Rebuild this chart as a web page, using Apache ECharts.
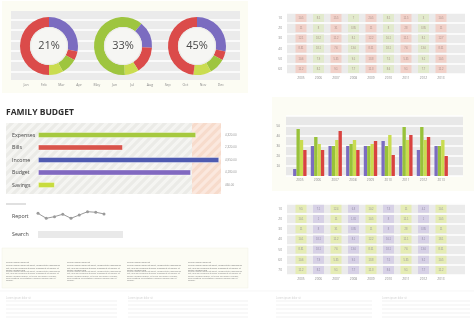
<!DOCTYPE html>
<html><head><meta charset="utf-8">
<script src="https://cdn.jsdelivr.net/npm/echarts@6/dist/echarts.min.js"></script>
<style>html,body{margin:0;padding:0;background:#fff}#c{width:474px;height:320px}</style>
</head><body><div id="c"></div>
<script>
// ---------------- DATA ----------------
const months = ['Jan','Feb','Mar','Apr','May','Jun','Jul','Aug','Sep','Oct','Nov','Dec'];
const donutPercents = ['21%','33%','45%'];
const donut1 = [28, 5, 9, 8, 50];
const donut2 = [11, 15, 15, 8, 51];
const donut3 = [28, 5, 9, 10, 48];

const budgetTitle = 'FAMILY BUDGET';
const budgetCategories = ['Expenses','Bills','Income','Budget','Savings'];
const budgetValues = [4320, 2320, 4950, 4180, 460];

const reportValues = [6.5, 2, 3.5, 5.7, 2, 5, 8, 7.5, 6];

const years = ['2005','2006','2007','2008','2009','2010','2011','2012','2013'];

const heatRowsTop = ['10','20','30','40','50','60'];
const heatTopR1 = [10.5, 8.5, 15.5, 7.0, 20.5, 8.5, 11.5, 3.0, 10.5];
const heatTopR2 = [11, 8, 31, 3.85, 11, 8, 28, 3.85, 11];
const heatTopR3 = [12.1, 18.2, 11.2, 8.1, 12.2, 16.1, 11.1, 8.1, 12.7];
const heatTopR4 = [8.31, 18.1, 7.6, 13.6, 8.51, 18.1, 7.6, 13.6, 8.51];
const heatTopR5 = [10.6, 7.9, 5.35, 9.5, 13.8, 7.5, 5.35, 9.2, 10.5];
const heatTopR6 = [11.2, 8.2, 9.1, 7.7, 11.3, 8.6, 9.1, 7.7, 11.2];

const barTicks = ['10','20','30','40','50'];
const barPurple = [7, 30, 30, 30, 30, 35, 30, 26, 30];
const barGreen  = [47, 39, 30, 32, 30, 30, 49, 49, 30];
const barLime   = [36, 32, 36, 36, 32, 41, 36, 36, 36];
const barRed    = [26, 26, 45, 26, 35, 21, 41, 39, 20];

const heatRowsBottom = ['10','20','30','40','50','60','70'];
const heatBotR1 = [9.5, 7.1, 12.4, 6.8, 10.2, 7.3, 11.0, 4.2, 10.1];
const heatBotR2 = [10.1, 1, 11, 1.81, 10.5, 8, 11.1, 1, 10.5];
const heatBotR3 = [11, 8, 31, 3.85, 11, 8, 28, 3.85, 11];
const heatBotR4 = [10.1, 18.1, 11.2, 8.1, 12.2, 16.1, 11.1, 8.1, 18.1];
const heatBotR5 = [8.31, 18.1, 7.6, 13.6, 8.51, 18.1, 7.6, 13.6, 8.51];
const heatBotR6 = [10.6, 7.9, 5.35, 9.5, 13.8, 7.5, 5.35, 9.2, 10.5];
const heatBotR7 = [11.2, 8.2, 9.1, 7.7, 11.3, 8.6, 9.1, 7.7, 11.2];

const loremHead = 'Lorem ipsum dolor sit';
const loremBody = 'Lorem ipsum dolor sit amet, consectetur adipiscing elit, sed do eiusmod tempor incididunt ut labore et dolore magna aliqua. Ut enim ad minim veniam, quis nostrud exercitation ullamco laboris nisi ut aliquip.';

// ---------------- STYLE ----------------
const P = '#7b6cc0', R = '#db4b4a', G = '#9ec53f', L = '#cadc50';
const donutColors = [[P,R,G,L,R],[G,P,R,L,G],[P,R,G,L,R]];
const budgetColors = ['#a6c93f','#d9544b','#4f5bb1','#8169c0','#c8dc3e'];

function stripes(bg, fg, size, w) {
  const c = document.createElement('canvas');
  c.width = c.height = size;
  const x = c.getContext('2d');
  x.fillStyle = bg; x.fillRect(0,0,size,size);
  x.strokeStyle = fg; x.lineWidth = w;
  x.beginPath();
  x.moveTo(0,size); x.lineTo(size,0);
  x.moveTo(-size/2,size/2); x.lineTo(size/2,-size/2);
  x.moveTo(size/2,size*1.5); x.lineTo(size*1.5,size/2);
  x.stroke();
  return {type:'pattern', image:c, repeat:'repeat'};
}

const chart = echarts.init(document.getElementById('c'), null, {renderer:'canvas'});

const heatTop = [heatTopR1,heatTopR2,heatTopR3,heatTopR4,heatTopR5,heatTopR6];
const heatBot = [heatBotR1,heatBotR2,heatBotR3,heatBotR4,heatBotR5,heatBotR6,heatBotR7];
function heatData(rows){ const d=[]; rows.forEach((r,ri)=>r.forEach((v,ci)=>d.push([ci,ri,v]))); return d; }

const tiny = {fontSize:3.5, color:'#8a8a8a', fontFamily:'Open Sans'};

const grids = [
  {left:11, top:19.3, width:229, height:52.4},            // 0 donut stripes
  {left:17.2, top:19.3, width:212.4, height:52.4},        // 1 months
  {left:38, top:128.75, width:183, height:62.5},          // 2 budget bars
  {left:38, top:209.5, width:66, height:11},              // 3 report line
  {left:287, top:12.9, width:178, height:61.2, show:true, backgroundColor:'#ebebeb', borderWidth:0}, // 4 heat top bg
  {left:292.25, top:12.9, width:157.5, height:61.2},      // 5 heat top data
  {left:286, top:116, width:177, height:60, show:true, backgroundColor:'#e8e8e8', borderWidth:0},    // 6 bar bg
  {left:291, top:116, width:159, height:60},              // 7 bar data
  {left:287, top:203.7, width:178, height:71.4, show:true, backgroundColor:'#ebebeb', borderWidth:0}, // 8 heat bottom bg
  {left:292.25, top:203.7, width:157.5, height:71.4}      // 9 heat bottom data
];

const hiddenX = (g)=>({type:'value', gridIndex:g, show:false, min:0, max:1});
const xAxes = [
  hiddenX(0),
  {type:'category', gridIndex:1, data:months, axisLine:{show:false}, axisTick:{show:false}, axisLabel:Object.assign({margin:11.5, interval:0}, tiny)},
  {type:'value', gridIndex:2, min:0, max:5000, show:false},
  {type:'category', gridIndex:3, data:reportValues.map((v,i)=>i), boundaryGap:false, show:false},
  hiddenX(4),
  {type:'category', gridIndex:5, data:years, axisLine:{show:false}, axisTick:{show:false}, axisLabel:Object.assign({margin:2.5, interval:0}, tiny, {fontSize:3.2})},
  hiddenX(6),
  {type:'category', gridIndex:7, data:years, axisLine:{show:false}, axisTick:{show:false}, axisLabel:Object.assign({margin:3, interval:0}, tiny, {fontSize:3.2})},
  hiddenX(8),
  {type:'category', gridIndex:9, data:years, axisLine:{show:false}, axisTick:{show:false}, axisLabel:Object.assign({margin:2.5, interval:0}, tiny, {fontSize:3.2})}
];
const yAxes = [
  {type:'value', gridIndex:0, min:0, max:5, interval:1, axisLine:{show:false}, axisTick:{show:false}, axisLabel:{show:false}, splitLine:{lineStyle:{color:'#ffffff', width:1.6}}},
  {type:'value', gridIndex:1, show:false},
  {type:'category', gridIndex:2, data:budgetCategories, inverse:true, axisLine:{show:false}, axisTick:{show:false}, axisLabel:{align:'left', margin:26, fontSize:5.3, color:'#444', fontFamily:'Open Sans'}},
  {type:'category', gridIndex:2, position:'right', data:budgetValues.map(v=>v.toLocaleString('en-US',{minimumFractionDigits:2})), inverse:true, axisLine:{show:false}, axisTick:{show:false}, axisLabel:{margin:4, fontSize:3, color:'#999'}},
  {type:'value', gridIndex:3, min:0, max:10, show:false},
  {type:'category', gridIndex:4, data:heatRowsTop, inverse:true, axisLine:{show:false}, axisTick:{show:false}, axisLabel:Object.assign({margin:5}, tiny, {fontSize:3.2}), splitLine:{show:true, lineStyle:{color:'#ffffff', width:1.5}}},
  {type:'category', gridIndex:5, data:heatRowsTop, inverse:true, show:false},
  {type:'value', gridIndex:6, min:0, max:60, interval:10, axisLine:{show:false}, axisTick:{show:false}, splitLine:{lineStyle:{color:'#ffffff', width:1.5}},
    axisLabel:{margin:6, fontSize:3.2, color:'#8a8a8a', formatter:(v)=>{const i=barTicks.indexOf(String(v)); return i>=0?barTicks[i]:'';}}},
  {type:'value', gridIndex:7, min:0, max:60, show:false},
  {type:'category', gridIndex:8, data:heatRowsBottom, inverse:true, axisLine:{show:false}, axisTick:{show:false}, axisLabel:Object.assign({margin:5}, tiny, {fontSize:3.2}), splitLine:{show:true, lineStyle:{color:'#ffffff', width:1.5}}},
  {type:'category', gridIndex:9, data:heatRowsBottom, inverse:true, show:false}
];

const series = [];
const donuts = [donut1, donut2, donut3];
const centers = [[49,46],[123,46],[197,46]];
donuts.forEach((d,k)=>{
  series.push({type:'pie', center:centers[k], radius:[19,29], startAngle:90, silent:true, animation:false,
    label:{show:false}, labelLine:{show:false},
    data:d.map((v,i)=>({value:v, itemStyle:{color:donutColors[k][i]}}))});
  series.push({type:'pie', center:centers[k], radius:[0,18.5], silent:true, animation:false,
    itemStyle:{color:'#f6f6f3', borderColor:'#ebebe8', borderWidth:1.2},
    label:{show:true, position:'center', formatter:donutPercents[k], fontSize:11, color:'#4a4a4a', fontFamily:'Open Sans'},
    labelLine:{show:false}, data:[{value:1}]});
});
series.push({type:'bar', xAxisIndex:2, yAxisIndex:2, barWidth:6, animation:false, silent:true,
  data:budgetValues.map((v,i)=>({value:v, itemStyle:{color:budgetColors[i], borderColor:'rgba(255,255,255,0.55)', borderWidth:0.8}}))});
series.push({type:'line', xAxisIndex:3, yAxisIndex:4, data:reportValues, symbol:'circle', symbolSize:3, animation:false, silent:true,
  lineStyle:{color:'#9a9a9a', width:1}, itemStyle:{color:'#9a9a9a'}});
series.push({type:'scatter', xAxisIndex:5, yAxisIndex:6, symbol:'rect', symbolSize:[11,8], animation:false, silent:true,
  data:heatData(heatTop),
  itemStyle:{color:(p)=>p.data[0]%2 ? '#e0eac6' : '#f3cac1'},
  label:{show:true, position:'inside', formatter:(p)=>String(p.data[2]), fontSize:2.6, color:'#9a807a'}});
[[barPurple,P],[barGreen,'#98c23a'],[barLime,'#c9dc4f'],[barRed,'#d9433f']].forEach(([d,c])=>{
  series.push({type:'bar', xAxisIndex:7, yAxisIndex:8, data:d, barGap:'0%', barCategoryGap:'24%', animation:false, silent:true, itemStyle:{color:c}});
});
series.push({type:'scatter', xAxisIndex:9, yAxisIndex:10, symbol:'rect', symbolSize:[11,8], animation:false, silent:true,
  data:heatData(heatBot),
  itemStyle:{color:(p)=>p.data[0]%2 ? '#d2cae5' : '#e4eca8'},
  label:{show:true, position:'inside', formatter:(p)=>String(p.data[2]), fontSize:2.6, color:'#86809a'}});

const graphic = [
  {type:'rect', shape:{x:2,y:1,width:246,height:92}, style:{fill:'#fcfcf3'}, z:-10},
  {type:'rect', shape:{x:11,y:11,width:229,height:69}, style:{fill:'#ebebeb'}, z:-5},
  {type:'rect', shape:{x:272,y:97,width:202,height:94}, style:{fill:'#fcfcf4'}, z:-10},
  {type:'rect', shape:{x:2,y:248,width:246,height:40}, style:{fill:'#fcfcf4', stroke:'#f1f1e6', lineWidth:0.5}, z:-10},
  {type:'text', x:6, y:108.5, style:{text:budgetTitle, fontSize:8.5, fontWeight:'bold', fill:'#2e2e2e', fontFamily:'Open Sans'}, z:10},
  {type:'rect', shape:{x:6,y:123,width:186,height:71}, style:{fill:stripes('#f5f5f2','#ebebe7',9,3.2)}, z:-5},
  {type:'rect', shape:{x:192,y:123,width:29,height:71}, style:{fill:stripes('#f7dbcc','#fbe8de',9,3.2)}, z:-5},
  {type:'line', shape:{x1:6,y1:204,x2:26,y2:204}, style:{stroke:'#999', lineWidth:0.6}},
  {type:'text', x:12, y:213.5, style:{text:'Report', fontSize:5.3, fill:'#444', fontFamily:'Open Sans'}},
  {type:'text', x:12, y:231.5, style:{text:'Search', fontSize:5.3, fill:'#444', fontFamily:'Open Sans'}},
  {type:'rect', shape:{x:38,y:231,width:85,height:7}, style:{fill:'#e9e9e9'}},
  {type:'line', shape:{x1:0,y1:291,x2:474,y2:291}, style:{stroke:'#f0f0f0', lineWidth:0.6}}
];
[6,67,127,188].forEach(x=>{
  graphic.push({type:'text', x:x, y:261.5, style:{text:loremHead, fontSize:2.4, fill:'#777', width:55, overflow:'truncate'}});
  graphic.push({type:'text', x:x, y:264.3, style:{text:loremBody.slice(0,120), fontSize:2.4, lineHeight:2.5, fill:'#777', width:55, overflow:'break'}});
  graphic.push({type:'text', x:x, y:270.5, style:{text:loremBody, fontSize:2.4, lineHeight:2.2, fill:'#888', width:55, overflow:'break'}});
});
[[6,117],[128,248],[276,372],[382,470]].forEach(([a,b])=>{
  graphic.push({type:'text', x:a, y:297, style:{text:loremHead, fontSize:2.6, fill:'#d4d4d4'}});
  [301,305,309,313,317].forEach(y=>graphic.push({type:'line', shape:{x1:a,y1:y,x2:b,y2:y}, style:{stroke:'#eeeeee', lineWidth:0.8}}));
});

chart.setOption({animation:false, backgroundColor:'#ffffff', grid:grids, xAxis:xAxes, yAxis:yAxes, series:series, graphic:graphic});
</script></body></html>
